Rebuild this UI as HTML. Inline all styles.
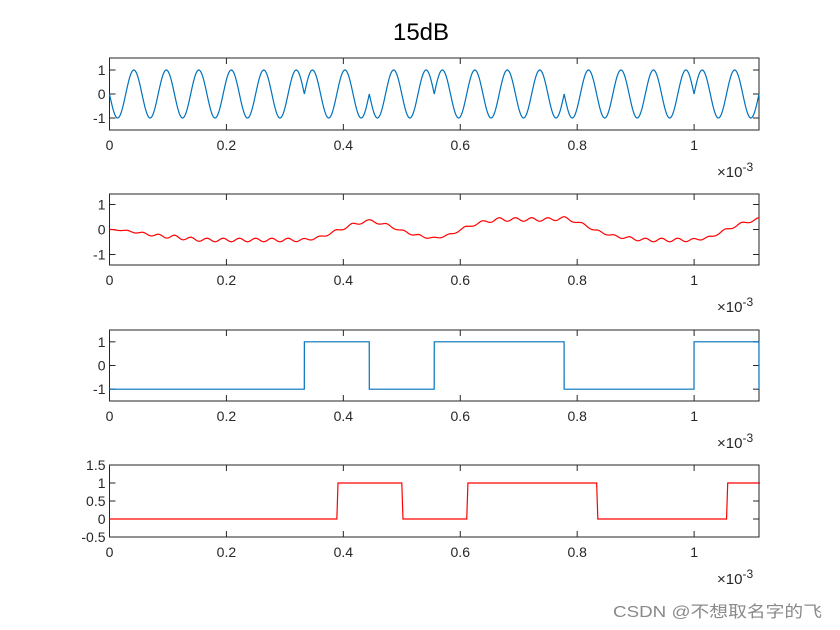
<!DOCTYPE html>
<html><head><meta charset="utf-8"><style>
html,body{margin:0;padding:0;background:#fff;}
svg{display:block;font-family:"Liberation Sans",Arial,sans-serif;}
</style></head><body>
<svg id="chart" width="840" height="630" xmlns="http://www.w3.org/2000/svg">
<rect width="840" height="630" fill="#fff"/>
<text x="421" y="40" font-size="24" text-anchor="middle" fill="#000">15dB</text>
<text x="613" y="617" font-size="16" textLength="209" lengthAdjust="spacingAndGlyphs" fill="#8a8a8a" font-family="Liberation Sans, Noto Sans CJK SC, sans-serif">CSDN @不想取名字的飞</text>
</svg>
<script>
// ---- data ----
const bits = [-1,-1,-1,1,-1,1,1,-1,-1,1];          // bipolar symbols
const bitDur = 0.1111;                               // ms per bit (x1e-3)
const carrierCycles = 2;                             // carrier cycles per bit
const recvBits = [0,0,0,1,0,1,1,0,0,1];             // recovered bits
const recvDelay = 0.0556;                            // recovered bit delay
const demodTimes = [0,0.028,0.056,0.083,0.111,0.139,0.167,0.194,0.222,0.25,0.278,0.306,0.333,0.361,0.389,0.417,0.444,0.472,0.5,0.528,0.556,0.583,0.611,0.639,0.667,0.694,0.722,0.75,0.778,0.806,0.833,0.861,0.889,0.917,0.944,0.972,1.0,1.028,1.056,1.083,1.111];
const demodEnv = [0,-0.05,-0.15,-0.25,-0.3,-0.38,-0.42,-0.42,-0.42,-0.42,-0.42,-0.42,-0.42,-0.3,-0.05,0.2,0.35,0.2,-0.05,-0.25,-0.35,-0.2,0.1,0.3,0.4,0.4,0.4,0.4,0.45,0.25,-0.05,-0.25,-0.35,-0.42,-0.42,-0.42,-0.42,-0.3,0,0.25,0.42];
const demodRipple = [0,0.02,0.04,0.06,0.07,0.07,0.07,0.07,0.07,0.07,0.07,0.07,0.06,0.04,0.04,0.05,0.04,0.04,0.03,0.05,0.04,0.03,0.03,0.05,0.07,0.07,0.07,0.07,0.06,0.03,0.03,0.04,0.06,0.07,0.07,0.07,0.06,0.03,0.03,0.04,0.05];
const xTicks = [0,0.2,0.4,0.6,0.8,1];
const xTickLabels = ["0","0.2","0.4","0.6","0.8","1"];
const panels = [
 {name:"modulated",top:58,bot:130,ymin:-1.5,ymax:1.5,yt:[-1,0,1],ytl:["-1","0","1"]},
 {name:"demodulated",top:194,bot:265,ymin:-1.42,ymax:1.42,yt:[-1,0,1],ytl:["-1","0","1"]},
 {name:"source-bits",top:330,bot:401,ymin:-1.5,ymax:1.5,yt:[-1,0,1],ytl:["-1","0","1"]},
 {name:"recovered-bits",top:465,bot:537,ymin:-0.5,ymax:1.5,yt:[-0.5,0,0.5,1,1.5],ytl:["-0.5","0","0.5","1","1.5"]}
];
const XMAX = 1.111;
// ---- drawing ----
const svg = document.getElementById('chart');
const NS = "http://www.w3.org/2000/svg";
const L = 109.5, R = 759;
const xs = t => L + (t / XMAX) * (R - L);
function mk(tag, attrs){const e=document.createElementNS(NS,tag);for(const k in attrs)e.setAttribute(k,attrs[k]);svg.appendChild(e);return e;}
function yScale(p){return v => p.bot - (v - p.ymin)/(p.ymax - p.ymin)*(p.bot - p.top);}
function path(p, pts, color, name){
  const ys=yScale(p);
  const d=pts.map((q,i)=>(i?'L':'M')+xs(q[0]).toFixed(2)+','+ys(q[1]).toFixed(2)).join('');
  const e=mk('path',{d:d,fill:'none',stroke:color,'stroke-width':1.2,'clip-path':'url(#clip'+name+')'});
  
  
}
const defs=mk('defs',{});
panels.forEach((p,pi)=>{
  const cp=document.createElementNS(NS,'clipPath');cp.setAttribute('id','clip'+p.name);
  const r=document.createElementNS(NS,'rect');r.setAttribute('x',L-1);r.setAttribute('y',p.top);r.setAttribute('width',R-L+2);r.setAttribute('height',p.bot-p.top);
  cp.appendChild(r);defs.appendChild(cp);
  const ys=yScale(p);
  const box=mk('rect',{x:L,y:p.top,width:R-L,height:p.bot-p.top,fill:'#fff',stroke:'#262626','stroke-width':1});
  
  
  xTicks.forEach((t,i)=>{
    const x=xs(t);
    mk('line',{x1:x,x2:x,y1:p.bot,y2:p.bot-6,stroke:'#262626'});
    mk('line',{x1:x,x2:x,y1:p.top,y2:p.top+6,stroke:'#262626'});
    const tx=mk('text',{x:x,y:p.bot+20,'font-size':14,'text-anchor':'middle',fill:'#262626'});
    tx.textContent=xTickLabels[i];
    
    
  });
  p.yt.forEach((v,i)=>{
    const y=ys(v);
    mk('line',{x1:L,x2:L+6,y1:y,y2:y,stroke:'#262626'});
    mk('line',{x1:R,x2:R-6,y1:y,y2:y,stroke:'#262626'});
    const tx=mk('text',{x:L-4,y:y+5,'font-size':14,'text-anchor':'end',fill:'#262626'});
    tx.textContent=p.ytl[i];
    
    
  });
  const ex=mk('text',{x:717,y:p.bot+47,'font-size':15,fill:'#262626'});
  ex.innerHTML='×10<tspan dy="-6" font-size="12">-3</tspan>';
  
  
});
// panel 1: BPSK modulated
(function(){
  const pts=[];const N=1400;
  for(let i=0;i<=N;i++){const t=XMAX*i/N;const k=Math.min(bits.length-1,Math.floor(t/bitDur));
    pts.push([t,bits[k]*Math.sin(2*Math.PI*carrierCycles*t/bitDur)]);}
  path(panels[0],pts,'#0072BD','modulated');
})();
// panel 2: demodulated (envelope readings + ripple readings)
(function(){
  const pts=[];const N=1400;
  for(let i=0;i<=N;i++){const t=XMAX*i/N;
    let j=0;while(j<demodTimes.length-2&&demodTimes[j+1]<t)j++;
    const f=Math.max(0,Math.min(1,(t-demodTimes[j])/(demodTimes[j+1]-demodTimes[j])));
    const u=(1-Math.cos(Math.PI*f))/2;
    const env=demodEnv[j]*(1-u)+demodEnv[j+1]*u;
    const rip=demodRipple[j]*(1-f)+demodRipple[j+1]*f;
    pts.push([t,env+rip*Math.cos(2*Math.PI*2*carrierCycles*t/bitDur)]);}
  path(panels[1],pts,'#FF0000','demodulated');
})();
// panel 3: source bits
(function(){
  const pts=[];
  bits.forEach((b,k)=>{pts.push([k*bitDur,b]);pts.push([Math.min(XMAX,(k+1)*bitDur)-0.0001,b]);});
  pts.push([XMAX,-1]);
  path(panels[2],pts,'#0072BD','source-bits');
})();
// panel 4: recovered bits
(function(){
  const pts=[[0,recvBits[0]]];
  recvBits.forEach((b,k)=>{const s=k?k*bitDur+recvDelay:0;pts.push([s+0.002,b]);pts.push([Math.min(XMAX+0.01,(k+1)*bitDur+recvDelay),b]);});
  path(panels[3],pts,'#FF0000','recovered-bits');
})();
</script>
</body></html>
